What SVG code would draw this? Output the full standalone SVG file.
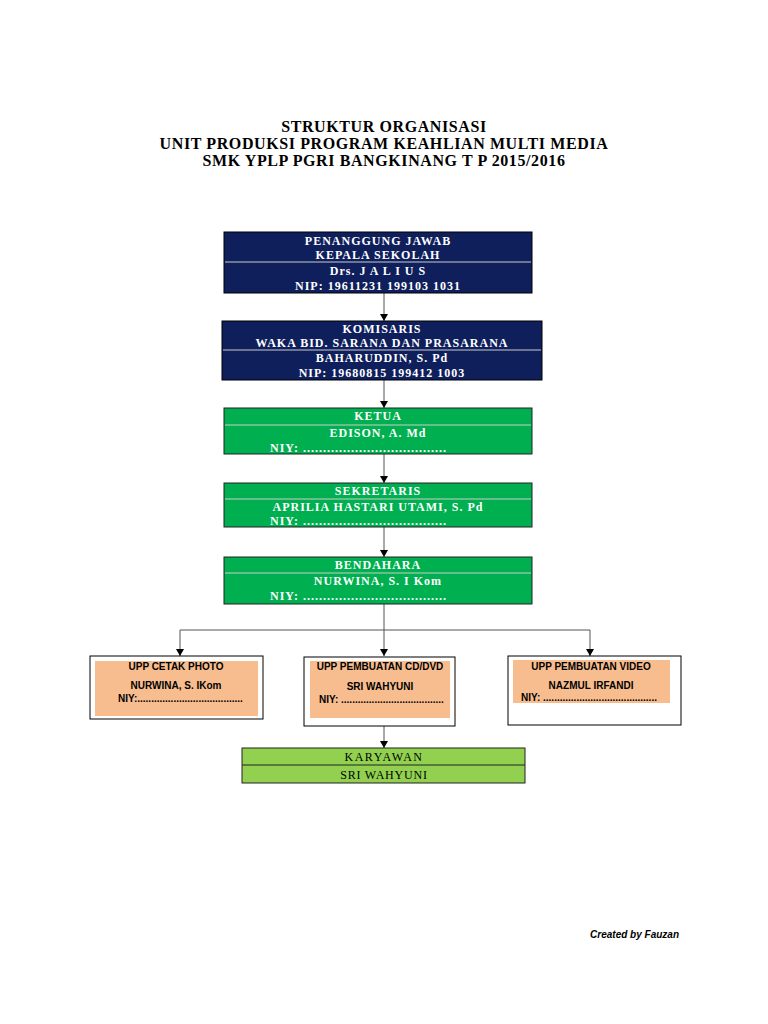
<svg xmlns="http://www.w3.org/2000/svg" width="768" height="1024" viewBox="0 0 768 1024">
<style>
.t{font-family:"Liberation Serif",serif;font-weight:bold;font-size:16px;text-anchor:middle;fill:#000;letter-spacing:0.6px}
.w{font-family:"Liberation Serif",serif;font-weight:bold;font-size:12px;fill:#fff;text-anchor:middle;letter-spacing:1px}
.n{font-family:"Liberation Serif",serif;font-weight:bold;font-size:12px;fill:#fff;letter-spacing:1px}
.s{font-family:"Liberation Sans",Arial,sans-serif;font-weight:bold;font-size:10px;fill:#000}
.sm{font-family:"Liberation Sans",Arial,sans-serif;font-weight:bold;font-size:10px;fill:#000;text-anchor:middle}
.navy{fill:#0f1f5c;stroke:#000;stroke-width:1}
.grn{fill:#00b050;stroke:#222;stroke-width:1}
.lg{fill:#92d050;stroke:#222;stroke-width:1}
.div{stroke:#ccc;stroke-width:1.2}
.c{stroke:#555;stroke-width:1;fill:none}
</style>
<defs><marker id="a" markerWidth="8" markerHeight="8" refX="7" refY="4" orient="auto" markerUnits="userSpaceOnUse"><path d="M0,0 L7,4 L0,8 z" fill="#000"/></marker></defs>
<text class="t" x="384" y="132">STRUKTUR ORGANISASI</text>
<text class="t" x="384" y="149">UNIT PRODUKSI PROGRAM KEAHLIAN MULTI MEDIA</text>
<text class="t" x="384" y="166">SMK YPLP PGRI BANGKINANG T P  2015/2016</text>
<g id="connectors">
<path class="c" d="M384,293 V321" marker-end="url(#a)"/>
<path class="c" d="M384,380 V408" marker-end="url(#a)"/>
<path class="c" d="M384,454 V483" marker-end="url(#a)"/>
<path class="c" d="M384,527 V557" marker-end="url(#a)"/>
<path class="c" d="M384,604 V656" marker-end="url(#a)"/>
<path class="c" d="M180,630 H590"/>
<path class="c" d="M180,630 V656" marker-end="url(#a)"/>
<path class="c" d="M590,630 V656" marker-end="url(#a)"/>
<path class="c" d="M384,726 V748" marker-end="url(#a)"/>
</g>
<g id="kepala">
<rect class="navy" x="224" y="232" width="308" height="61"/>
<line class="div" x1="225" y1="262" x2="531" y2="262"/>
<text class="w" x="378" y="245">PENANGGUNG JAWAB</text>
<text class="w" x="378" y="259">KEPALA SEKOLAH</text>
<text class="w" x="378" y="275">Drs. J A L I U S</text>
<text class="w" x="378" y="290">NIP:  19611231 199103 1031</text>
</g>
<g id="komisaris">
<rect class="navy" x="222" y="321" width="320" height="59"/>
<line class="div" x1="223" y1="350" x2="541" y2="350"/>
<text class="w" x="382" y="333">KOMISARIS</text>
<text class="w" x="382" y="347">WAKA BID. SARANA DAN PRASARANA</text>
<text class="w" x="382" y="362">BAHARUDDIN, S. Pd</text>
<text class="w" x="382" y="377">NIP:  19680815 199412 1003</text>
</g>
<g id="ketua">
<rect class="grn" x="224" y="408" width="308" height="46"/>
<line class="div" x1="225" y1="425" x2="531" y2="425"/>
<text class="w" x="378" y="420">KETUA</text>
<text class="w" x="378" y="437">EDISON, A. Md</text>
<text class="n" x="270" y="452">NIY: ....................................</text>
</g>
<g id="sekretaris">
<rect class="grn" x="224" y="483" width="308" height="44"/>
<line class="div" x1="225" y1="499" x2="531" y2="499"/>
<text class="w" x="378" y="495">SEKRETARIS</text>
<text class="w" x="378" y="511">APRILIA HASTARI UTAMI, S. Pd</text>
<text class="n" x="270" y="525">NIY: ....................................</text>
</g>
<g id="bendahara">
<rect class="grn" x="224" y="557" width="308" height="47"/>
<line class="div" x1="225" y1="573" x2="531" y2="573"/>
<text class="w" x="378" y="569">BENDAHARA</text>
<text class="w" x="378" y="585">NURWINA, S. I Kom</text>
<text class="n" x="270" y="600">NIY: ....................................</text>
</g>
<g id="upp-photo">
<rect x="90" y="656" width="173" height="63" fill="#fff" stroke="#000"/>
<rect x="95" y="661" width="163" height="55" fill="#f8bd8f"/>
<text class="sm" x="176" y="670">UPP CETAK PHOTO</text>
<text class="sm" x="176" y="689">NURWINA, S. IKom</text>
<text class="s" x="118" y="702">NIY:......................................</text>
</g>
<g id="upp-cd">
<rect x="304" y="657" width="151" height="69" fill="#fff" stroke="#000"/>
<rect x="310" y="661" width="140" height="57" fill="#f8bd8f"/>
<text class="sm" x="380" y="670">UPP PEMBUATAN CD/DVD</text>
<text class="sm" x="380" y="690">SRI WAHYUNI</text>
<text class="s" x="319" y="703">NIY:  .....................................</text>
</g>
<g id="upp-video">
<rect x="508" y="656" width="173" height="69" fill="#fff" stroke="#000"/>
<rect x="513" y="660" width="157" height="43" fill="#f8bd8f"/>
<text class="sm" x="591" y="670">UPP PEMBUATAN VIDEO</text>
<text class="sm" x="591" y="689">NAZMUL IRFANDI</text>
<text class="s" x="521" y="701">NIY: .........................................</text>
</g>
<g id="karyawan">
<rect class="lg" x="242" y="748" width="283" height="35"/>
<line x1="242" y1="765" x2="525" y2="765" stroke="#222"/>
<text x="384" y="761" text-anchor="middle" font-family="Liberation Serif,serif" font-size="12" letter-spacing="1.5">KARYAWAN</text>
<text x="384" y="779" text-anchor="middle" font-family="Liberation Serif,serif" font-size="12" letter-spacing="0.8">SRI WAHYUNI</text>
</g>
<text x="679" y="938" text-anchor="end" font-family="Liberation Sans,Arial,sans-serif" font-size="10" font-weight="bold" font-style="italic">Created by Fauzan</text>
</svg>
